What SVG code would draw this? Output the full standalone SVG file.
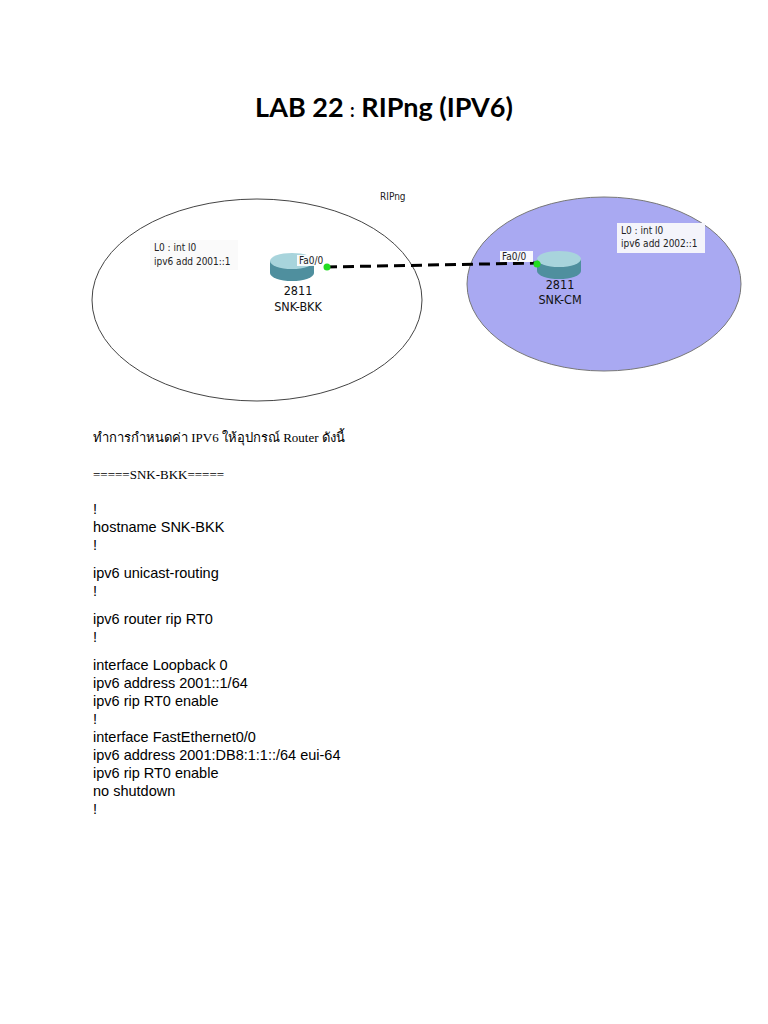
<svg xmlns="http://www.w3.org/2000/svg" width="768" height="1024" viewBox="0 0 768 1024">
<style>
.t{font-family:"Liberation Sans",Arial,sans-serif;font-size:14.5px;fill:#000}
.s{font-family:"DejaVu Sans Condensed","DejaVu Sans",sans-serif;font-size:10px;fill:#222}
.m{font-family:"DejaVu Sans Condensed","DejaVu Sans",sans-serif;font-size:12.5px;fill:#111;text-anchor:middle}
.th{font-family:"Liberation Serif","Noto Sans",serif;font-size:13px;fill:#000}
</style>
<rect width="768" height="1024" fill="#fff"/>
<text x="384" y="117" text-anchor="middle" font-family="Lato,'Open Sans',sans-serif" font-weight="bold" font-size="27">LAB 22 <tspan font-size="18">:</tspan> RIPng (IPV6)</text>
<g id="area-bkk"><ellipse cx="257" cy="300" rx="165" ry="101" fill="#fff" stroke="#444" stroke-width="1"/></g>
<g id="area-cm"><ellipse cx="604" cy="284" rx="137" ry="87" fill="#a9a9f2" stroke="#777" stroke-width="1"/></g>
<text class="s" x="380" y="200">RIPng</text>
<g id="connectors"><line x1="326" y1="267" x2="537" y2="263" stroke="#000" stroke-width="3" stroke-dasharray="11,6"/></g>
<g id="label-bkk"><rect x="150" y="240" width="88" height="30" fill="#fafafa"/><text class="s" x="154" y="251">L0 : int l0</text><text class="s" x="154" y="265">ipv6 add 2001::1</text></g>
<g id="label-cm"><rect x="617" y="223" width="88" height="30" fill="#f4f4fb"/><text class="s" x="621" y="234">L0 : int l0</text><text class="s" x="621" y="247">ipv6 add 2002::1</text></g>
<g id="snk-bkk">
<path d="M270 261 v12 a22 8 0 0 0 44 0 v-12z" fill="#4f8f9e"/>
<ellipse cx="292" cy="261" rx="22" ry="8" fill="#a8d4dc"/>
<rect x="297" y="255" width="30" height="11" fill="#fff" opacity="0.9"/>
<text class="s" x="299" y="264">Fa0/0</text>
<circle cx="327" cy="267" r="3.5" fill="#22dd22"/>
<text class="m" x="298" y="295">2811</text><text class="m" x="298" y="311">SNK-BKK</text>
</g>
<g id="snk-cm">
<path d="M537 259 v12 a22 8 0 0 0 44 0 v-12z" fill="#4f8f9e"/>
<ellipse cx="559" cy="259" rx="22" ry="8" fill="#a8d4dc"/>
<rect x="500" y="251" width="33" height="11" fill="#fff" opacity="0.9"/>
<text class="s" x="502" y="260">Fa0/0</text>
<circle cx="537" cy="264" r="3.5" fill="#22dd22"/>
<text class="m" x="560" y="289">2811</text><text class="m" x="560" y="304">SNK-CM</text>
</g>
<text class="th" x="93" y="442">ทำการกำหนดค่า IPV6 ให้อุปกรณ์ Router ดังนี้</text>
<text class="th" x="93" y="479">=====SNK-BKK=====</text>
<g class="t">
<text x="93" y="514">!</text>
<text x="93" y="532">hostname SNK-BKK</text>
<text x="93" y="550">!</text>
<text x="93" y="578">ipv6 unicast-routing</text>
<text x="93" y="596">!</text>
<text x="93" y="624">ipv6 router rip RT0</text>
<text x="93" y="642">!</text>
<text x="93" y="670">interface Loopback 0</text>
<text x="93" y="688">ipv6 address 2001::1/64</text>
<text x="93" y="706">ipv6 rip RT0 enable</text>
<text x="93" y="724">!</text>
<text x="93" y="742">interface FastEthernet0/0</text>
<text x="93" y="760">ipv6 address 2001:DB8:1:1::/64 eui-64</text>
<text x="93" y="778">ipv6 rip RT0 enable</text>
<text x="93" y="796">no shutdown</text>
<text x="93" y="814">!</text>
</g>
</svg>
